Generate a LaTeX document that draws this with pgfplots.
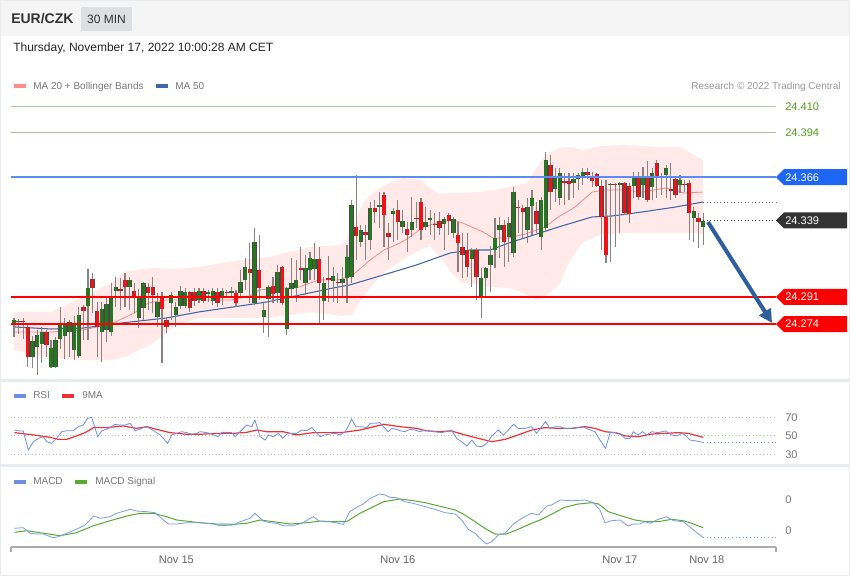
\documentclass[border=0pt]{standalone}
\usepackage{fontspec}
\setmainfont{Liberation Sans}
\usepackage{pgfplots}
\usepackage{pgfplotstable}
\pgfplotsset{compat=1.18}
\usetikzlibrary{arrows.meta}

\definecolor{bordergray}{HTML}{E9ECEF}
\definecolor{headergray}{HTML}{F5F5F5}
\definecolor{boxgray}{HTML}{DCDFE3}
\definecolor{bbfill}{HTML}{FFE9E9}
\definecolor{ma20c}{HTML}{F28B8B}
\definecolor{ma20leg}{HTML}{FF8A8A}
\definecolor{ma50c}{HTML}{3F67A8}
\definecolor{wickc}{HTML}{8A8282}
\definecolor{edgec}{HTML}{4D4646}
\definecolor{upc}{HTML}{23791F}
\definecolor{dnc}{HTML}{EC1419}
\definecolor{lvlgreen}{HTML}{A6D58C}
\definecolor{lvlgreen2}{HTML}{A9BE9C}
\definecolor{lblgreen}{HTML}{52A01C}
\definecolor{bluelvl}{HTML}{5A8CF4}
\definecolor{bluetag}{HTML}{1E66F5}
\definecolor{darktag}{HTML}{333333}
\definecolor{redlvl}{HTML}{FF0000}
\definecolor{arrowc}{HTML}{2F5E9E}
\definecolor{rsic}{HTML}{6E8FE8}
\definecolor{rsima}{HTML}{F23030}
\definecolor{macdc}{HTML}{7B9BF0}
\definecolor{sigc}{HTML}{5AAA32}
\definecolor{gridc}{HTML}{BBBBBB}
\definecolor{axisgray}{HTML}{AAAAAA}
\definecolor{labgray}{HTML}{777777}

% 30-min candles: index, open, high, low, close
\pgfplotstableread{
i o h l c
0 24.2741 24.2778 24.2659 24.2766
1 24.2753 24.2772 24.2678 24.2759
2 24.2759 24.2778 24.2647 24.2753
3 24.2722 24.2734 24.2471 24.2534
4 24.2534 24.2665 24.2465 24.2634
5 24.2596 24.2703 24.2421 24.2672
6 24.2615 24.2722 24.2496 24.2690
7 24.2690 24.2703 24.2534 24.2609
8 24.2471 24.2640 24.2465 24.2590
9 24.2471 24.2659 24.2465 24.2640
10 24.2647 24.2847 24.2584 24.2741
11 24.2665 24.2778 24.2521 24.2747
12 24.2690 24.2766 24.2534 24.2753
13 24.2578 24.2791 24.2515 24.2747
14 24.2540 24.2847 24.2528 24.2797
15 24.2847 24.2860 24.2640 24.2822
16 24.2853 24.3085 24.2640 24.2966
17 24.3022 24.3060 24.2809 24.2966
18 24.2822 24.2878 24.2534 24.2722
19 24.2690 24.2878 24.2503 24.2834
20 24.2703 24.2910 24.2628 24.2866
21 24.2690 24.2997 24.2665 24.2903
22 24.2947 24.3035 24.2847 24.2972
23 24.2960 24.3029 24.2828 24.2947
24 24.3016 24.3060 24.2847 24.2972
25 24.2972 24.3035 24.2828 24.3016
26 24.2947 24.2997 24.2809 24.2916
27 24.2778 24.2960 24.2715 24.2903
28 24.2841 24.3004 24.2766 24.2997
29 24.2972 24.2997 24.2828 24.2935
30 24.2972 24.3035 24.2809 24.2922
31 24.2784 24.2935 24.2722 24.2878
32 24.2916 24.2941 24.2496 24.2834
33 24.2766 24.2784 24.2684 24.2722
34 24.2872 24.2941 24.2766 24.2922
35 24.2797 24.2878 24.2722 24.2847
36 24.2853 24.2979 24.2834 24.2947
37 24.2853 24.2966 24.2841 24.2941
38 24.2941 24.2947 24.2816 24.2841
39 24.2941 24.2966 24.2853 24.2885
40 24.2891 24.2966 24.2872 24.2947
41 24.2947 24.2966 24.2872 24.2885
42 24.2928 24.2953 24.2878 24.2941
43 24.2885 24.2966 24.2860 24.2947
44 24.2941 24.2966 24.2847 24.2872
45 24.2910 24.2966 24.2860 24.2947
46 24.2941 24.2953 24.2903 24.2935
47 24.2935 24.2972 24.2910 24.2947
48 24.2935 24.2953 24.2847 24.2872
49 24.2935 24.3079 24.2910 24.3004
50 24.3016 24.3154 24.2953 24.3098
51 24.3085 24.3248 24.2872 24.3060
52 24.2872 24.3342 24.2860 24.3254
53 24.3079 24.3298 24.2891 24.2966
54 24.2784 24.2872 24.2684 24.2828
55 24.2897 24.2985 24.2659 24.2972
56 24.2979 24.3035 24.2872 24.2928
57 24.2935 24.3110 24.2872 24.3066
58 24.3098 24.3104 24.2860 24.2872
59 24.2709 24.2972 24.2672 24.2966
60 24.2960 24.3154 24.2910 24.2997
61 24.2966 24.3141 24.2878 24.3016
62 24.3091 24.3223 24.3016 24.3079
63 24.2997 24.3173 24.2922 24.3091
64 24.3079 24.3192 24.3016 24.3154
65 24.3085 24.3248 24.3016 24.3148
66 24.3148 24.3223 24.2734 24.2997
67 24.2885 24.3035 24.2766 24.2997
68 24.3029 24.3166 24.2878 24.3016
69 24.3010 24.3098 24.2878 24.3041
70 24.3004 24.3060 24.2872 24.2997
71 24.2997 24.3098 24.2910 24.3022
72 24.3029 24.3235 24.2872 24.3160
73 24.3035 24.3517 24.2997 24.3486
74 24.3348 24.3674 24.3141 24.3292
75 24.3254 24.3361 24.3223 24.3329
76 24.3317 24.3361 24.3141 24.3298
77 24.3267 24.3505 24.3204 24.3467
78 24.3467 24.3517 24.3373 24.3442
79 24.3473 24.3567 24.3342 24.3486
80 24.3549 24.3567 24.3223 24.3423
81 24.3311 24.3373 24.3141 24.3285
82 24.3430 24.3467 24.3254 24.3448
83 24.3455 24.3517 24.3267 24.3379
84 24.3348 24.3455 24.3311 24.3386
85 24.3336 24.3379 24.3192 24.3298
86 24.3329 24.3536 24.3285 24.3379
87 24.3404 24.3505 24.3342 24.3398
88 24.3505 24.3530 24.3267 24.3329
89 24.3348 24.3473 24.3329 24.3379
90 24.3392 24.3455 24.3298 24.3404
91 24.3367 24.3436 24.3267 24.3361
92 24.3386 24.3442 24.3298 24.3342
93 24.3367 24.3411 24.3204 24.3398
94 24.3423 24.3436 24.3298 24.3386
95 24.3311 24.3411 24.3279 24.3398
96 24.3298 24.3379 24.3066 24.3248
97 24.3223 24.3311 24.3029 24.3173
98 24.3204 24.3311 24.3035 24.3098
99 24.3148 24.3217 24.2972 24.3204
100 24.3204 24.3217 24.2891 24.3035
101 24.2910 24.3091 24.2778 24.3029
102 24.3029 24.3098 24.2903 24.3091
103 24.3110 24.3229 24.2941 24.3173
104 24.3204 24.3404 24.3091 24.3279
105 24.3329 24.3411 24.3154 24.3361
106 24.3361 24.3392 24.3098 24.3254
107 24.3285 24.3411 24.3129 24.3373
108 24.3185 24.3599 24.3160 24.3567
109 24.3473 24.3517 24.3311 24.3467
110 24.3467 24.3486 24.3279 24.3442
111 24.3329 24.3530 24.3248 24.3473
112 24.3480 24.3580 24.3298 24.3530
113 24.3448 24.3505 24.3311 24.3367
114 24.3285 24.3536 24.3204 24.3517
115 24.3342 24.3818 24.3317 24.3768
116 24.3736 24.3799 24.3455 24.3567
117 24.3586 24.3718 24.3505 24.3661
118 24.3530 24.3718 24.3486 24.3686
119 24.3636 24.3686 24.3486 24.3624
120 24.3636 24.3686 24.3517 24.3617
121 24.3624 24.3686 24.3530 24.3649
122 24.3649 24.3686 24.3580 24.3674
123 24.3661 24.3718 24.3611 24.3693
124 24.3693 24.3718 24.3649 24.3674
125 24.3655 24.3693 24.3599 24.3636
126 24.3680 24.3686 24.3599 24.3605
127 24.3605 24.3642 24.3204 24.3411
128 24.3411 24.3642 24.3123 24.3173
129 24.3611 24.3624 24.3129 24.3617
130 24.3617 24.3624 24.3223 24.3611
131 24.3611 24.3630 24.3311 24.3624
132 24.3624 24.3630 24.3423 24.3436
133 24.3605 24.3624 24.3373 24.3430
134 24.3605 24.3693 24.3530 24.3655
135 24.3668 24.3693 24.3517 24.3536
136 24.3611 24.3724 24.3530 24.3668
137 24.3655 24.3761 24.3505 24.3517
138 24.3599 24.3718 24.3517 24.3686
139 24.3749 24.3768 24.3530 24.3668
140 24.3661 24.3686 24.3549 24.3655
141 24.3674 24.3736 24.3530 24.3718
142 24.3586 24.3749 24.3517 24.3574
143 24.3649 24.3661 24.3530 24.3549
144 24.3611 24.3674 24.3561 24.3642
145 24.3617 24.3642 24.3567 24.3611
146 24.3624 24.3642 24.3267 24.3436
147 24.3404 24.3473 24.3254 24.3448
148 24.3404 24.3436 24.3217 24.3379
149 24.3348 24.3436 24.3235 24.3386
}\candles

% Bollinger band outline: upper band left to right, then lower band right to left
\pgfplotstableread{
i v
0 24.2816
8 24.2816
15 24.2910
21 24.2997
24 24.3072
30 24.3091
35 24.3085
40 24.3098
49 24.3141
55 24.3160
64 24.3223
71 24.3235
73 24.3317
75 24.3473
77 24.3549
80 24.3611
84 24.3655
88 24.3642
90 24.3592
92 24.3555
95 24.3561
97 24.3561
100 24.3567
104 24.3580
108 24.3605
111 24.3624
113 24.3718
115 24.3799
118 24.3843
120 24.3849
123 24.3830
127 24.3855
132 24.3862
139 24.3849
144 24.3849
147 24.3799
149 24.3768
149 24.3304
147 24.3311
144 24.3311
139 24.3311
132 24.3311
127 24.3304
123 24.3254
120 24.3129
118 24.2991
115 24.2916
113 24.2891
111 24.2922
108 24.2960
104 24.2972
100 24.2985
97 24.2997
95 24.3047
92 24.3166
90 24.3229
88 24.3210
84 24.3141
80 24.3066
77 24.2966
75 24.2891
73 24.2797
71 24.2791
64 24.2816
55 24.2778
49 24.2778
40 24.2778
35 24.2734
30 24.2621
24 24.2534
21 24.2515
15 24.2515
8 24.2528
0 24.2578
}\bb

\pgfplotstableread{
i v
0 24.2690
8 24.2690
15 24.2703
21 24.2741
26 24.2809
29 24.2872
33 24.2891
47 24.2891
51 24.2916
53 24.2953
57 24.2966
61 24.2966
64 24.2997
66 24.3016
70 24.3016
73 24.3041
77 24.3141
80 24.3204
83.5 24.3248
85.6 24.3285
88.5 24.3348
92 24.3379
95 24.3392
97 24.3373
101.4 24.3317
103.6 24.3279
107 24.3279
110.5 24.3304
114.8 24.3348
117.7 24.3411
121.3 24.3473
125 24.3567
127.8 24.3580
132 24.3580
135.8 24.3567
140.8 24.3592
145 24.3561
149 24.3567
}\maA

\pgfplotstableread{
i v
0 24.2722
8 24.2709
15 24.2715
21.5 24.2741
33 24.2778
40 24.2816
47.4 24.2847
54.6 24.2878
61.8 24.2922
69 24.2966
72.6 24.2985
79.8 24.3047
87 24.3110
94.3 24.3185
98.6 24.3204
103 24.3204
107 24.3248
111 24.3285
117.7 24.3348
125 24.3411
129.3 24.3417
135.8 24.3442
143 24.3473
149 24.3505
}\maB

\pgfplotstableread{
i v
0.1 56.3
1.3 55.3
2.0 55.3
3.1 34.7
4.2 43.7
5.3 47.3
6.3 49.1
7.1 43.7
8.1 41.9
9.2 47.3
10.3 54.5
11.4 55.6
12.8 55.6
13.9 59.9
15.0 61.7
15.9 68.9
16.8 70.0
18.1 49.1
19.0 55.6
20.0 57.1
21.1 59.9
21.8 62.5
22.9 61.7
24.0 61.7
25.1 63.6
26.2 55.6
27.2 57.1
28.3 59.9
29.4 58.1
30.5 54.5
31.6 51.0
32.3 47.3
33.2 41.9
34.1 51.0
35.2 52.7
36.3 54.5
37.3 53.5
38.4 51.7
39.5 52.7
40.2 54.5
41.3 53.8
42.4 52.7
43.5 50.2
44.2 49.1
44.9 53.8
46.0 53.8
47.1 53.5
47.8 49.1
48.5 52.7
49.6 58.1
50.3 61.7
51.4 59.9
52.1 67.1
53.2 49.1
54.3 45.5
55.0 51.0
56.1 49.1
57.2 52.7
58.1 47.3
59.0 52.0
60.0 52.7
61.1 52.7
62.2 56.3
63.3 55.6
64.4 58.9
65.4 53.5
66.2 49.1
67.2 51.0
68.3 52.0
69.4 52.7
70.5 51.0
71.6 54.5
72.3 60.7
73.0 68.2
73.9 59.9
75.2 59.9
76.3 58.9
77.0 63.6
78.1 63.6
79.1 64.3
79.9 59.9
80.9 54.5
81.7 58.1
82.7 57.1
83.5 55.6
84.5 54.5
85.6 57.1
86.7 56.3
87.8 54.5
88.9 56.3
91.0 54.5
92.5 53.5
94.6 56.3
95.7 47.3
96.8 43.7
97.9 39.0
99.0 45.5
100.0 39.0
101.1 38.3
102.2 41.9
103.3 49.9
104.7 56.3
105.8 51.0
106.9 56.3
108.0 62.5
109.0 58.1
110.5 58.1
111.9 59.9
113.0 52.7
114.1 59.9
114.9 65.4
115.9 58.1
117.0 59.9
118.0 59.9
119.1 58.1
120.2 58.1
121.7 58.9
123.1 59.9
124.2 57.1
125.6 54.5
126.7 45.5
127.9 36.5
128.9 53.5
130.0 53.5
131.0 52.7
132.1 47.3
133.2 47.3
133.9 54.5
134.9 51.0
135.9 54.5
136.8 51.0
137.9 54.5
139.3 53.5
140.8 55.3
142.2 51.0
143.3 49.9
144.4 52.7
145.1 51.0
146.2 45.5
147.6 44.4
149.0 43.0
}\rsi

\pgfplotstableread{
i v
0.1 53.5
4.2 51.0
7.8 48.4
9.6 46.2
11.4 46.2
13.5 49.9
15.4 53.5
17.2 58.9
20.0 58.9
23.6 60.7
26.5 58.1
28.7 59.9
30.8 57.1
33.7 53.5
37.3 51.7
40.2 51.7
43.8 52.7
47.4 52.7
50.3 53.8
52.5 56.3
54.6 54.5
58.2 54.5
61.1 51.0
64.7 53.5
68.3 53.5
71.2 53.8
74.8 56.3
77.0 58.9
79.9 62.5
83.5 59.9
87.1 58.1
88.9 55.6
91.7 54.5
94.6 55.3
97.5 51.0
100.4 47.3
103.3 43.7
106.2 46.2
109.0 51.0
111.9 56.3
114.8 58.9
117.7 58.1
120.6 58.1
123.5 59.9
125.6 58.1
127.8 54.5
130.0 53.5
132.1 49.9
135.0 49.1
137.9 52.0
140.8 52.7
143.6 53.5
145.8 52.7
149.0 48.4
}\rsima

% MACD and signal, in units of 0.001
\pgfplotstableread{
i v
0.1 -12.3
2.0 -11.7
3.5 -17.3
4.9 -18.0
6.3 -18.0
8.5 -21.7
9.6 -20.7
11.4 -17.3
13.5 -13.3
15.4 -9.0
17.2 0.0
18.6 -2.3
20.8 -0.7
22.2 2.7
25.1 6.7
26.5 5.0
28.7 4.3
30.5 3.3
32.3 -4.0
33.4 -8.0
35.2 -8.0
37.3 -6.7
40.2 -6.7
43.1 -8.0
44.5 -9.7
47.4 -9.0
48.9 -5.7
51.0 -2.3
52.1 2.7
53.9 -5.0
55.4 -6.7
56.8 -7.3
58.2 -9.7
60.4 -9.7
62.2 -7.3
64.7 -0.7
66.2 -5.7
68.3 -5.7
71.2 -8.3
72.6 4.3
74.1 8.7
75.5 12.0
77.0 17.7
79.1 22.0
80.2 21.0
81.3 18.7
82.7 18.3
84.5 14.3
86.3 12.7
88.9 9.3
91.0 6.7
93.2 3.3
95.4 2.0
96.8 -4.0
98.2 -13.3
99.7 -17.3
101.1 -24.0
102.2 -28.0
103.3 -25.7
104.7 -19.0
106.2 -17.3
108.0 -8.0
109.8 -2.3
111.9 2.7
113.4 1.0
115.2 10.0
116.2 11.0
118.1 16.0
120.6 15.3
123.5 16.0
125.3 13.3
126.7 6.0
127.8 -6.7
129.2 -4.7
131.0 -4.0
132.8 -10.0
133.9 -8.0
135.4 -8.0
136.4 -5.7
137.5 -7.3
139.3 -3.3
141.1 -0.7
142.6 -4.7
144.7 -5.7
146.5 -12.3
148.0 -18.0
149.0 -21.3
}\macd

\pgfplotstableread{
i v
0.1 -16.3
2.7 -14.7
5.6 -16.7
9.9 -19.7
13.5 -16.7
17.2 -9.7
20.8 -4.7
24.4 0.0
27.2 2.7
30.1 2.7
33.0 -0.7
35.2 -4.0
40.2 -6.7
43.8 -8.0
47.4 -8.3
50.3 -7.3
53.2 -4.0
56.1 -5.7
59.7 -8.0
63.3 -6.7
66.2 -5.0
69.0 -5.7
71.9 -5.7
74.8 2.7
77.0 7.7
79.9 14.3
83.5 17.0
86.3 15.3
88.9 13.3
92.5 9.3
95.4 6.0
97.5 1.0
99.7 -5.7
101.8 -12.3
104.0 -18.0
106.5 -18.0
109.0 -13.3
111.9 -7.3
114.1 -3.3
116.2 1.7
119.1 8.7
122.0 12.0
124.9 13.3
126.4 12.0
128.5 4.3
131.4 0.0
134.3 -4.0
136.8 -5.7
139.3 -5.7
142.2 -3.3
144.7 -4.7
146.5 -7.3
149.0 -11.7
}\signal

\newcommand{\pricetag}[3]{%
  \fill[#2] (axis cs:164.757,#1) -- ++(6pt,6pt) -- ++(47.25pt,0pt) -- ++(0pt,-12pt) -- ++(-47.25pt,0pt) -- cycle;
  \node[anchor=west, inner sep=0pt, text=white, font=\fontsize{8.3}{10}\selectfont] at ([xshift=6.75pt]axis cs:164.757,#1) {#3};%
}

\pgfplotsset{
  panel/.style={anchor=south west, scale only axis, width=573.75pt,
    xmin=-0.6486, xmax=164.757, hide axis, clip=false},
  bars/.style={draw=none, mark=none, forget plot, error bars/.cd,
    y dir=plus, y explicit, error mark=none},
}

\begin{document}
\begin{tikzpicture}
% page background and panels, in pixel units from the top left
\begin{scope}[x=0.75pt, y=-0.75pt, yshift=432pt]
  \fill[bordergray] (0,0) rectangle (850,576);
  \fill[headergray] (1,1) rectangle (849,36);
  \fill[white] (1,36) rectangle (849,379);
  \fill[white] (1,382) rectangle (849,464);
  \fill[white] (1,467) rectangle (849,575);
  \node[anchor=west, inner sep=0pt, text=darktag, font=\bfseries\fontsize{10.5}{12}\selectfont] at (11,19) {EUR/CZK};
  \fill[boxgray] (81,7) rectangle (132,31);
  \node[inner sep=0pt, text=darktag, font=\fontsize{9}{11}\selectfont] at (106.5,19) {30 MIN};
  \node[anchor=west, inner sep=0pt, text=black!85, font=\fontsize{9}{11}\selectfont] at (13,48) {Thursday, November 17, 2022 10:00:28 AM CET};
  \begin{scope}[every node/.style={anchor=west, inner sep=0pt, text=labgray, font=\fontsize{7.5}{9}\selectfont}]
    \fill[ma20leg] (14,84.5) rectangle (26,88.5);
    \node at (33,86.5) {MA 20 + Bollinger Bands};
    \fill[ma50c] (156,84.5) rectangle (168,88.5);
    \node at (175,86.5) {MA 50};
    \node[anchor=east, text=black!40] at (841,86.5) {Research © 2022 Trading Central};
    \fill[rsic] (14,393.5) rectangle (26,397.5);
    \node at (33,395.5) {RSI};
    \fill[rsima] (62,393.5) rectangle (74,397.5);
    \node at (82,395.5) {9MA};
    \fill[rsic] (14,479.5) rectangle (26,483.5);
    \node at (33,481.5) {MACD};
    \fill[sigc] (75,479.5) rectangle (87,483.5);
    \node at (95,481.5) {MACD Signal};
  \end{scope}
\end{scope}

% price panel
\begin{axis}[panel, at={(8.25pt,148.5pt)}, height=214.5pt,
    ymin=24.24019, ymax=24.41939]
  \addplot[fill=bbfill, draw=none] table[x=i, y=v] {\bb} -- cycle;
  \addplot[ma20c, line width=0.6pt] table[x=i, y=v] {\maA};
  \addplot[ma50c, line width=0.8pt] table[x=i, y=v] {\maB};
  % wicks
  \addplot[bars, error bar style={draw=wickc, line width=0.9pt}]
    table[x=i, y=l, y error plus expr=\thisrow{h}-\thisrow{l}] {\candles};
  % body edges
  \addplot[bars, error bar style={draw=edgec, line width=3.3pt}]
    table[x=i, y=o, y error plus expr=\thisrow{c}-\thisrow{o}] {\candles};
  % rising bodies
  \addplot[bars, error bar style={draw=upc, line width=2.3pt},
      /pgfplots/restrict expr to domain={\thisrow{c}-\thisrow{o}}{0:1}]
    table[x=i, y=o, y error plus expr=\thisrow{c}-\thisrow{o}] {\candles};
  % falling bodies
  \addplot[bars, error bar style={draw=dnc, line width=2.3pt},
      /pgfplots/restrict expr to domain={\thisrow{o}-\thisrow{c}}{0:1}]
    table[x=i, y=c, y error plus expr=\thisrow{o}-\thisrow{c}] {\candles};
  % levels
  \addplot[draw=lvlgreen, line width=0.75pt] coordinates {(-0.6486,24.410) (164.757,24.410)};
  \addplot[draw=lvlgreen2, line width=0.75pt] coordinates {(-0.6486,24.394) (164.757,24.394)};
  \addplot[draw=bluelvl, line width=1.1pt] coordinates {(-0.6486,24.366) (164.757,24.366)};
  \addplot[draw=redlvl, line width=1.5pt] coordinates {(-0.6486,24.291) (164.757,24.291)};
  \addplot[draw=redlvl, line width=1.5pt] coordinates {(-0.6486,24.274) (164.757,24.274)};
  \addplot[black!55, dotted, line width=0.6pt] coordinates {(149,24.3505) (164.757,24.3505)};
  \addplot[black!75, dotted, line width=0.6pt] coordinates {(149,24.339) (164.757,24.339)};
  \node[anchor=west, inner sep=0pt, text=lblgreen, font=\fontsize{8.3}{10}\selectfont] at ([xshift=6.75pt]axis cs:164.757,24.410) {24.410};
  \node[anchor=west, inner sep=0pt, text=lblgreen, font=\fontsize{8.3}{10}\selectfont] at ([xshift=6.75pt]axis cs:164.757,24.394) {24.394};
  \pricetag{24.366}{bluetag}{24.366}
  \pricetag{24.339}{darktag}{24.339}
  \pricetag{24.291}{redlvl}{24.291}
  \pricetag{24.274}{redlvl}{24.274}
  \draw[arrowc, line width=3pt, -{Triangle[length=10pt, width=10pt]}]
    (axis cs:150.05,24.3379) -- (axis cs:163.9,24.2747);
\end{axis}

% RSI panel
\begin{axis}[panel, at={(8.25pt,85.5pt)}, height=46.5pt, ymin=21.74, ymax=88.78]
  \addplot[gridc, dotted, line width=0.6pt] coordinates {(-0.6486,70) (164.757,70)};
  \addplot[gridc, dotted, line width=0.6pt] coordinates {(-0.6486,50) (164.757,50)};
  \addplot[gridc, dotted, line width=0.6pt] coordinates {(-0.6486,30) (164.757,30)};
  \addplot[rsima, line width=0.9pt] table[x=i, y=v] {\rsima};
  \addplot[rsic, line width=0.6pt] table[x=i, y=v] {\rsi};
  \addplot[rsic, dotted, line width=0.7pt] coordinates {(149,43.0) (164.757,43.0)};
  \node[anchor=west, inner sep=0pt, text=labgray, font=\fontsize{8.3}{10}\selectfont] at ([xshift=6.75pt]axis cs:164.757,70) {70};
  \node[anchor=west, inner sep=0pt, text=labgray, font=\fontsize{8.3}{10}\selectfont] at ([xshift=6.75pt]axis cs:164.757,50) {50};
  \node[anchor=west, inner sep=0pt, text=labgray, font=\fontsize{8.3}{10}\selectfont] at ([xshift=6.75pt]axis cs:164.757,30) {30};
\end{axis}

% MACD panel
\begin{axis}[panel, at={(8.25pt,21.75pt)}, height=46.5pt, ymin=-31, ymax=31]
  \addplot[sigc, line width=0.75pt] table[x=i, y=v] {\signal};
  \addplot[macdc, line width=0.6pt] table[x=i, y=v] {\macd};
  \addplot[macdc, dotted, line width=0.7pt] coordinates {(149,-21.3) (164.757,-21.3)};
  \node[anchor=west, inner sep=0pt, text=labgray, font=\fontsize{8.3}{10}\selectfont] at ([xshift=6.75pt]axis cs:164.757,16) {0};
  \node[anchor=west, inner sep=0pt, text=labgray, font=\fontsize{8.3}{10}\selectfont] at ([xshift=6.75pt]axis cs:164.757,-15) {0};
  \draw[axisgray, line width=1.5pt] (axis cs:-0.6486,-31) -- (axis cs:164.757,-31);
  \draw[axisgray, line width=1pt] (axis cs:-0.6486,-31) -- ++(0pt,-3.75pt);
  \draw[axisgray, line width=1pt] (axis cs:164.757,-31) -- ++(0pt,-3.75pt);
  \node[inner sep=0pt, text=black!60, font=\fontsize{8.3}{10}\selectfont] at ([yshift=-9.75pt]axis cs:35.1,-31) {Nov 15};
  \node[inner sep=0pt, text=black!60, font=\fontsize{8.3}{10}\selectfont] at ([yshift=-9.75pt]axis cs:83.0,-31) {Nov 16};
  \node[inner sep=0pt, text=black!60, font=\fontsize{8.3}{10}\selectfont] at ([yshift=-9.75pt]axis cs:131.0,-31) {Nov 17};
  \node[inner sep=0pt, text=black!60, font=\fontsize{8.3}{10}\selectfont] at ([yshift=-9.75pt]axis cs:149.8,-31) {Nov 18};
\end{axis}
\end{tikzpicture}
\end{document}
